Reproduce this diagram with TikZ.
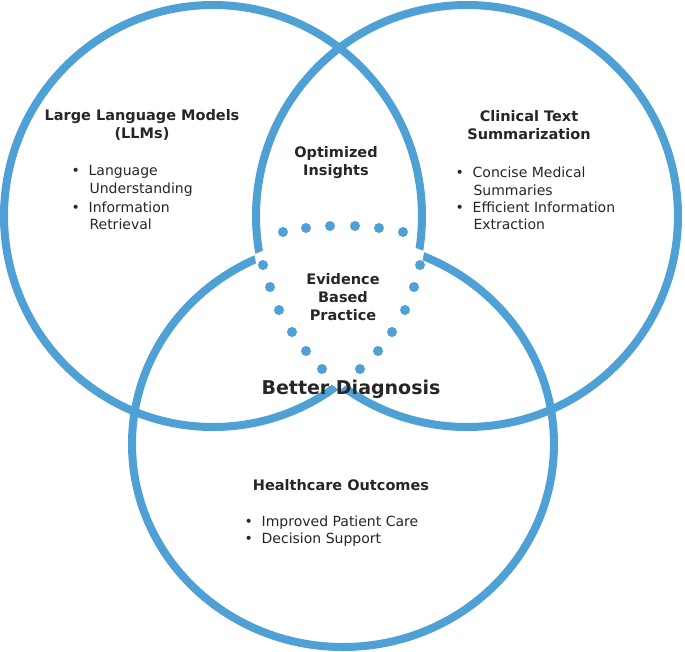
\documentclass[tikz,border=0pt]{standalone}
\usepackage{fontspec}
\setmainfont{DejaVu Sans}
\definecolor{vblue}{RGB}{78,160,213}
\begin{document}
\begin{tikzpicture}[x=1pt,y=-1pt,
  ring/.style={draw=vblue,line width=8pt},
  dot/.style={fill=vblue},
  head/.style={font=\fontsize{14.5}{18}\selectfont\bfseries,align=center,text=black!85},
  item/.style={font=\fontsize{14}{17.5}\selectfont,align=left,anchor=west,text=black!85}]
\useasboundingbox (0,0) rectangle (685,651);
\draw[ring] (213,216) ellipse [x radius=209,y radius=211];
\draw[ring] (467,216) ellipse [x radius=211,y radius=211];
\draw[ring] (343,444) ellipse [x radius=211,y radius=203];
\begin{scope}
  \clip (213,216) ellipse [x radius=214,y radius=216];
  \clip (467,216) ellipse [x radius=216,y radius=216];
  \fill[white] (343,444) ellipse [x radius=216,y radius=208];
\end{scope}
\foreach \p in {(283,232),(306,228),(330,226),(355,226),(379,228),(403,232),
  (263,265),(270,287),(279,310),(292,332),(306,351),(322,369),
  (420,265),(414,287),(405,310),(392,332),(378,351),(360,369)}
  \fill[dot] \p circle (5);
\node[head] (llm) at (142,125) {Large Language Models\\(LLMs)};
\node[item] (l1) at (68,172) {\textbullet\ \ Language};
\node[item] (l2) at (86,190) {Understanding};
\node[item] (l3) at (68,207) {\textbullet\ \ Information};
\node[item] (l4) at (86,224) {Retrieval};
\node[head] (opt) at (336,163) {Optimized\\Insights};
\node[head] (cts) at (529,125) {Clinical Text\\Summarization};
\node[item] (c1) at (452,172) {\textbullet\ \ Concise Medical};
\node[item] (c2) at (470,190) {Summaries};
\node[item] (c3) at (452,207) {\textbullet\ \ Efficient Information};
\node[item] (c4) at (470,224) {Extraction};
\node[head] (ebp) at (343,297) {Evidence\\Based\\Practice};
\node[font=\fontsize{19}{22}\selectfont\bfseries,text=black!85] (bd) at (351,389) {Better Diagnosis};
\node[head] (hc) at (341,485) {Healthcare Outcomes};
\node[item] (h1) at (241,523) {\textbullet\ \ Improved Patient Care};
\node[item] (h2) at (241,540) {\textbullet\ \ Decision Support};
\end{tikzpicture}
\end{document}
